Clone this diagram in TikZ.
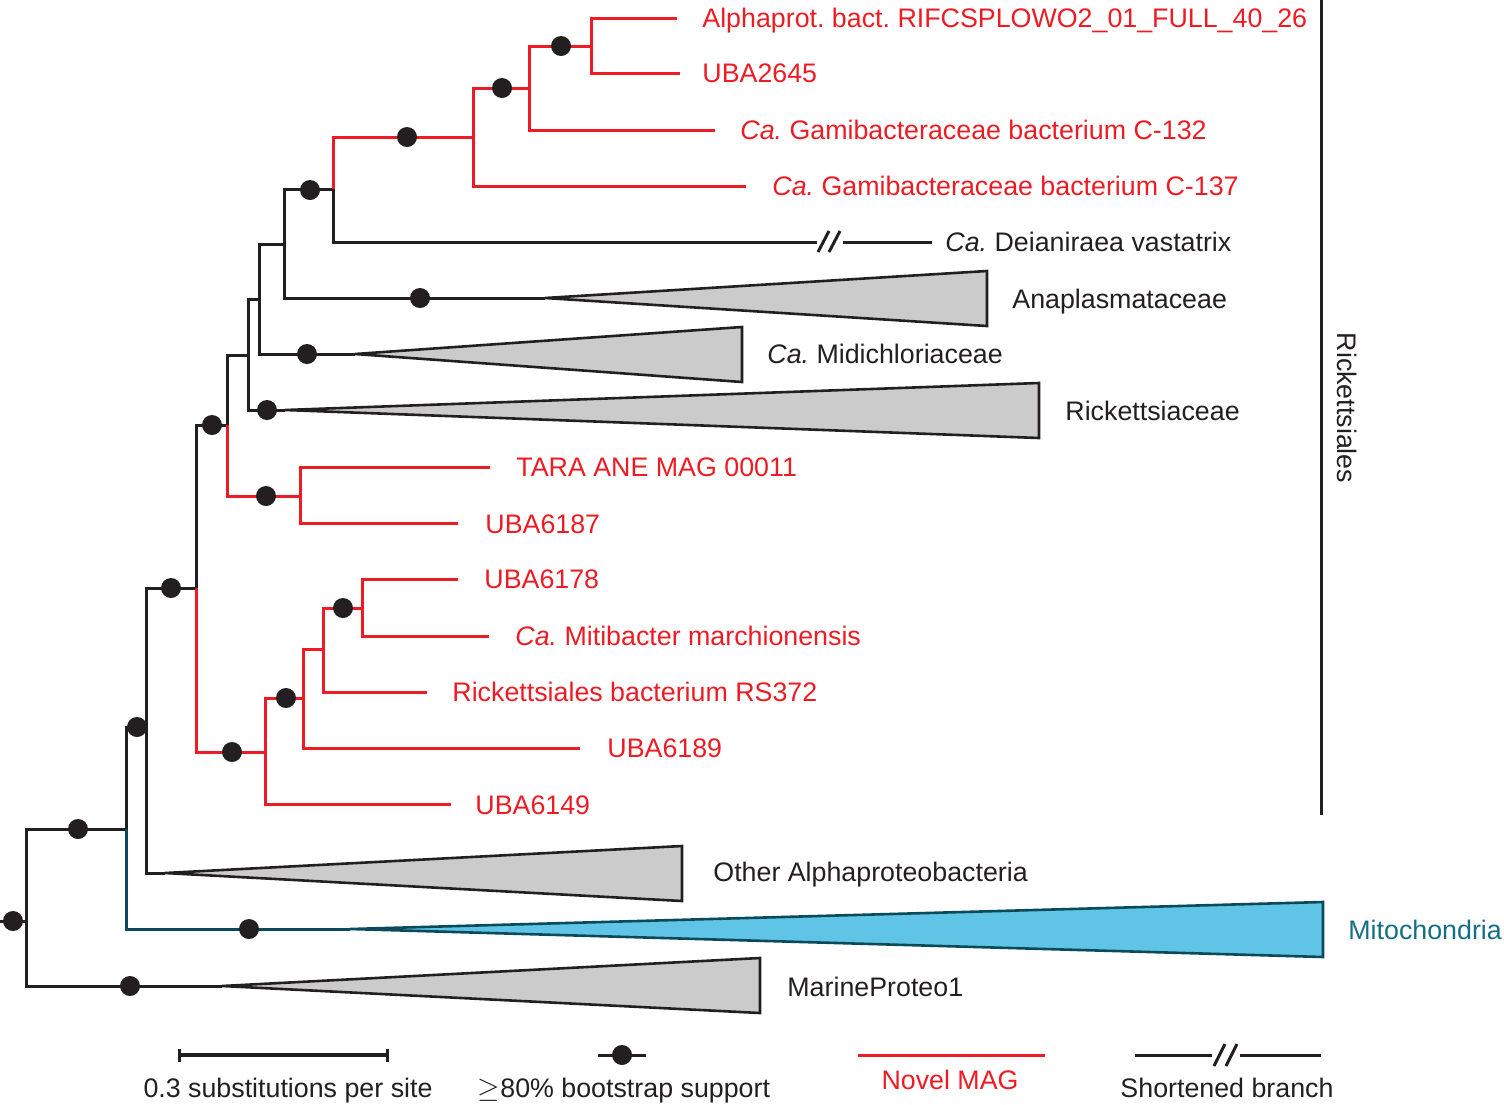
\documentclass[tikz,border=0pt]{standalone}
\usepackage{fontspec}
\setmainfont{Liberation Sans}
\definecolor{tred}{HTML}{ED1C24}
\definecolor{tblk}{HTML}{231F20}
\definecolor{tgray}{HTML}{CBCBCB}
\definecolor{tteal}{HTML}{0B4A5A}
\definecolor{tealtxt}{HTML}{146E87}
\definecolor{mitofill}{HTML}{5FC4E5}
\begin{document}
\begin{tikzpicture}[x=0.5pt,y=-0.5pt,
  br/.style={line width=1.5pt,tblk},
  nov/.style={line width=1.5pt,tred},
  mit/.style={line width=1.5pt,tteal},
  bs/.style={circle,fill=tblk,inner sep=0pt,minimum size=10pt},
  clade/.style={draw=tblk,line width=1.3pt,fill=tgray,line join=miter},
  lab/.style={anchor=west,inner sep=0pt,font=\fontsize{13.4}{16}\selectfont,text=tblk,text height=0.716em,text depth=0pt,yshift=-1pt},
  nlab/.style={lab,text=tred},
  leg/.style={anchor=center,inner sep=0pt,font=\fontsize{13.4}{16}\selectfont,text=tblk,text height=0.716em,text depth=0pt,yshift=-1pt},
  slash/.style={line width=1.5pt,tblk}]
\useasboundingbox (0,0) rectangle (1504,1104);
% internal nodes
\coordinate (stub) at (0,921);
\coordinate (R) at (26,921);
\coordinate (n1) at (126,829);
\coordinate (n2) at (146,727);
\coordinate (n3) at (196,588);
\coordinate (n4) at (227,425);
\coordinate (n5) at (265,752);
\coordinate (n6) at (248,355);
\coordinate (n7) at (300,496);
\coordinate (n8) at (259,299);
\coordinate (n9) at (284,244);
\coordinate (n10) at (333,189);
\coordinate (n11) at (473,137);
\coordinate (n12) at (529,88);
\coordinate (n13) at (591,46);
\coordinate (n14) at (303,698);
\coordinate (n15) at (323,649);
\coordinate (n16) at (362,608);
% leaves
\coordinate (lAlpha) at (677,18);
\coordinate (lU2645) at (680,73);
\coordinate (lC132) at (715,130);
\coordinate (lC137) at (746,186);
\coordinate (lDeiA) at (817,242);
\coordinate (lDeiB) at (843,242);
\coordinate (lDeiC) at (932,242);
\coordinate (lTARA) at (490,467);
\coordinate (lU6187) at (458,523);
\coordinate (lU6178) at (458,579);
\coordinate (lMiti) at (489,636);
\coordinate (lRS) at (427,692);
\coordinate (lU6189) at (580,748);
\coordinate (lU6149) at (451,804);
% clade apices
\coordinate (aAna) at (545,298);
\coordinate (aMid) at (355,354);
\coordinate (aRic) at (285,410);
\coordinate (aOth) at (165,873);
\coordinate (aMit) at (350,929);
\coordinate (aMar) at (222,986);
% collapsed clades
\draw[clade] (aAna) -- (987,271) -- (987,326) -- cycle;
\draw[clade] (aMid) -- (742,327) -- (742,382) -- cycle;
\draw[clade] (aRic) -- (1039,383) -- (1039,438) -- cycle;
\draw[clade] (aOth) -- (682,846) -- (682,901) -- cycle;
\draw[clade,draw=tteal,fill=mitofill] (aMit) -- (1323,902) -- (1323,957) -- cycle;
\draw[clade] (aMar) -- (760,958) -- (760,1013) -- cycle;
% branches
\draw[br] (stub) -- (R);
\draw[br] (R) |- (n1);
\draw[br] (R) |- (aMar);
\draw[br] (n1) |- (n2);
\draw[mit] (n1) |- (aMit);
\draw[br] (n2) |- (n3);
\draw[br] (n2) |- (aOth);
\draw[br] (n3) |- (n4);
\draw[nov] (n3) |- (n5);
\draw[br] (n4) |- (n6);
\draw[nov] (n4) |- (n7);
\draw[nov] (n7) |- (lTARA);
\draw[nov] (n7) |- (lU6187);
\draw[br] (n6) |- (n8);
\draw[br] (n6) |- (aRic);
\draw[br] (n8) |- (n9);
\draw[br] (n8) |- (aMid);
\draw[br] (n9) |- (n10);
\draw[br] (n9) |- (aAna);
\draw[nov] (n10) |- (n11);
\draw[br] (n10) |- (lDeiA);
\draw[br] (lDeiB) -- (lDeiC);
\draw[slash] (818,252) -- (829,231) (829,252) -- (840,231);
\draw[nov] (n11) |- (n12);
\draw[nov] (n11) |- (lC137);
\draw[nov] (n12) |- (n13);
\draw[nov] (n12) |- (lC132);
\draw[nov] (n13) |- (lAlpha);
\draw[nov] (n13) |- (lU2645);
\draw[nov] (n5) |- (n14);
\draw[nov] (n5) |- (lU6149);
\draw[nov] (n14) |- (n15);
\draw[nov] (n14) |- (lU6189);
\draw[nov] (n15) |- (n16);
\draw[nov] (n15) |- (lRS);
\draw[nov] (n16) |- (lU6178);
\draw[nov] (n16) |- (lMiti);
% bootstrap dots
\foreach \p [count=\i] in {(13,921),(78,829),(130,986),(137,727),(249,929),(171,588),(212,425),(232,752),(266,496),(307,354),(267,410),(420,298),(310,190),(407,137),(502,88),(561,46),(286,698),(343,608)}
  \node[bs] (d\i) at \p {};
% labels
\node[nlab] (tAlpha) at (702,18) {Alphaprot.\ bact.\ RIFCSPLOWO2\_01\_FULL\_40\_26};
\node[nlab] (tU2645) at (702,73) {UBA2645};
\node[nlab] (tC132) at (740,130) {\textit{Ca.}\ Gamibacteraceae bacterium C-132};
\node[nlab] (tC137) at (772,186) {\textit{Ca.}\ Gamibacteraceae bacterium C-137};
\node[lab] (tDei) at (945,242) {\textit{Ca.}\ Deianiraea vastatrix};
\node[lab] (tAna) at (1012,299) {Anaplasmataceae};
\node[lab] (tMid) at (767,354) {\textit{Ca.}\ Midichloriaceae};
\node[lab] (tRic) at (1065,411) {Rickettsiaceae};
\node[nlab] (tTARA) at (516,467) {TARA ANE MAG 00011};
\node[nlab] (tU6187) at (485,524) {UBA6187};
\node[nlab] (tU6178) at (484,579) {UBA6178};
\node[nlab] (tMiti) at (515,636) {\textit{Ca.}\ Mitibacter marchionensis};
\node[nlab] (tRS) at (452,692) {Rickettsiales bacterium RS372};
\node[nlab] (tU6189) at (607,748) {UBA6189};
\node[nlab] (tU6149) at (475,805) {UBA6149};
\node[lab] (tOth) at (713,872) {Other Alphaproteobacteria};
\node[lab,text=tealtxt] (tMit) at (1348,930) {Mitochondria};
\node[lab] (tMar) at (787,987) {MarineProteo1};
% Rickettsiales bar
\coordinate (barT) at (1321,0);
\coordinate (barB) at (1321,815);
\draw[br] (barT) -- (barB);
\node[leg,rotate=-90,yshift=1pt,xshift=-1pt] (tRk) at (1343,408) {Rickettsiales};
% legend
\coordinate (sbL) at (179,1055);
\coordinate (sbR) at (387,1055);
\draw[line width=2pt,tblk] (sbL) -- (sbR);
\draw[line width=1.5pt,tblk] (179,1049) -- (179,1062) (387,1049) -- (387,1062);
\node[leg] (tSB) at (288,1088) {0.3 substitutions per site};
\coordinate (bsL) at (598,1055);
\coordinate (bsR) at (646,1055);
\draw[br] (bsL) -- (bsR);
\node[bs] (dleg) at (622,1055) {};
\node[leg] (tBS) at (624,1088) {$\geq$80\% bootstrap support};
\coordinate (nmL) at (858,1055);
\coordinate (nmR) at (1045,1055);
\draw[nov] (nmL) -- (nmR);
\node[leg,text=tred] (tNM) at (950,1080) {Novel MAG};
\coordinate (shL) at (1135,1055);
\coordinate (shM1) at (1212,1055);
\coordinate (shM2) at (1240,1055);
\coordinate (shR) at (1321,1055);
\draw[br] (shL) -- (shM1) (shM2) -- (shR);
\draw[slash] (1214,1066) -- (1225,1044) (1226,1066) -- (1237,1044);
\node[leg] (tSh) at (1227,1088) {Shortened branch};
\end{tikzpicture}
\end{document}
